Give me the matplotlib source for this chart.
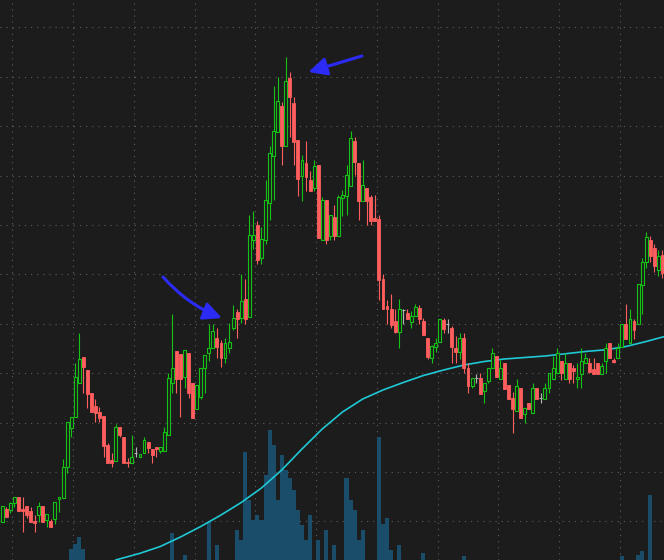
import matplotlib
matplotlib.use("Agg")
import matplotlib.pyplot as plt
from matplotlib.ticker import MultipleLocator
import numpy as np

# ---------------- data ----------------
opens = [3.83, 5.10, 5.00, 5.73, 6.27, 5.10, 5.40, 4.90, 3.90, 4.47,
         5.40, 4.00, 3.90, 4.07, 6.07, 6.17, 9.27, 13.23, 14.27, 17.67,
         20.27, 19.00, 16.67, 15.40, 14.80, 14.40, 11.52, 10.00, 9.93, 13.28,
         12.30, 9.83, 9.73, 10.73, 10.27, 10.73, 11.80, 11.12, 11.30, 10.93,
         10.93, 12.47, 17.67, 20.90, 20.60, 18.27, 20.73, 17.67, 15.13, 16.27,
         19.17, 20.67, 21.17, 22.23, 21.67, 20.23, 21.17, 23.17, 24.77, 24.17,
         26.07, 24.33, 32.00, 33.50, 30.23, 32.00, 35.73, 40.43, 42.83, 45.40,
         41.43, 48.17, 45.67, 42.00, 38.40, 39.67, 38.00, 37.17, 39.50, 32.00,
         36.00, 32.43, 34.33, 32.43, 36.23, 36.43, 37.43, 41.90, 39.70, 35.93,
         37.18, 36.30, 34.23, 34.10, 28.10, 25.40, 25.10, 23.90, 22.77, 25.05,
         24.67, 23.83, 24.40, 25.23, 23.90, 22.22, 20.17, 21.33, 21.83, 24.00,
         23.57, 23.23, 21.23, 20.83, 22.17, 19.23, 17.40, 18.20, 18.23, 16.93,
         17.90, 19.17, 20.40, 18.13, 19.70, 17.50, 16.17, 14.90, 17.23, 14.60,
         15.67, 14.67, 17.17, 16.20, 16.13, 17.17, 18.13, 18.67, 19.90, 18.13,
         19.67, 19.17, 18.15, 18.63, 19.67, 19.67, 19.07, 19.67, 18.63, 19.93,
         21.67, 20.00, 20.17, 21.33, 23.57, 21.67, 23.90, 23.57, 27.50, 29.80,
         32.00, 31.20, 29.00, 30.50]
highs = [5.40, 5.33, 5.77, 6.27, 6.27, 6.27, 5.40, 5.27, 4.50, 5.77,
         5.40, 4.57, 4.10, 5.77, 6.27, 10.07, 13.77, 14.27, 19.67, 22.67,
         20.27, 19.00, 16.67, 16.15, 15.27, 14.40, 11.73, 10.73, 13.65, 13.28,
         12.30, 10.17, 12.50, 11.27, 10.60, 12.27, 11.80, 11.12, 11.30, 11.30,
         13.30, 18.73, 24.57, 20.90, 20.60, 21.00, 20.73, 17.67, 17.50, 19.17,
         20.50, 23.60, 23.65, 23.25, 22.00, 22.17, 23.67, 25.50, 25.07, 28.57,
         28.07, 34.50, 34.93, 33.93, 33.33, 38.00, 41.43, 47.40, 48.33, 45.83,
         50.33, 48.83, 46.33, 42.00, 40.50, 41.90, 38.93, 40.00, 39.50, 36.33,
         36.00, 34.50, 35.50, 36.50, 37.00, 39.50, 42.87, 42.33, 39.70, 40.00,
         37.18, 36.50, 36.50, 34.50, 28.57, 26.00, 26.60, 25.10, 26.07, 25.10,
         25.10, 24.90, 25.60, 25.50, 24.17, 22.22, 21.50, 22.17, 24.07, 24.17,
         24.07, 23.40, 22.40, 22.67, 22.67, 19.67, 18.17, 18.57, 18.67, 17.67,
         19.17, 21.17, 20.40, 20.00, 19.70, 17.50, 16.83, 18.10, 17.23, 15.17,
         15.67, 17.67, 17.17, 16.67, 17.67, 18.67, 20.40, 21.17, 19.90, 20.67,
         19.67, 19.50, 19.67, 21.17, 20.67, 20.17, 20.17, 19.67, 19.67, 21.67,
         21.67, 20.17, 21.67, 23.57, 25.57, 25.07, 24.07, 27.60, 30.20, 32.80,
         32.40, 31.60, 31.00, 31.00]
lows = [3.80, 4.30, 4.73, 5.33, 4.90, 2.83, 4.17, 3.83, 2.83, 3.83,
        3.83, 3.33, 3.33, 3.60, 4.83, 6.17, 8.73, 12.27, 14.27, 17.67,
        16.67, 15.17, 14.77, 13.80, 13.77, 10.33, 9.73, 9.30, 9.93, 12.27,
        9.73, 9.27, 9.73, 10.33, 10.27, 10.73, 10.73, 9.73, 10.27, 10.73,
        10.93, 12.47, 16.67, 16.73, 14.27, 17.17, 16.17, 14.23, 15.13, 16.13,
        16.67, 19.90, 21.17, 20.17, 19.27, 19.67, 20.67, 23.00, 22.17, 23.67,
        23.60, 24.33, 31.10, 29.57, 29.60, 31.60, 34.00, 36.00, 42.83, 39.50,
        41.43, 42.33, 39.50, 36.40, 35.93, 36.93, 36.93, 36.90, 32.23, 32.00,
        31.57, 32.00, 32.00, 32.43, 34.43, 34.50, 37.43, 38.50, 34.00, 35.93,
        33.50, 33.50, 33.93, 26.00, 25.07, 23.60, 23.17, 22.67, 21.17, 23.57,
        24.07, 23.17, 24.40, 23.57, 22.50, 20.10, 19.67, 20.83, 21.83, 22.67,
        22.67, 19.67, 19.67, 20.07, 18.67, 16.67, 17.17, 17.73, 16.60, 15.67,
        17.67, 19.17, 18.33, 18.13, 17.10, 16.13, 12.73, 14.90, 14.23, 13.67,
        15.13, 14.67, 16.13, 15.67, 16.13, 16.67, 18.13, 18.67, 18.00, 18.13,
        17.67, 17.67, 17.17, 17.17, 19.67, 18.67, 18.63, 18.63, 18.63, 18.67,
        20.17, 19.67, 20.17, 21.33, 22.10, 21.67, 22.10, 23.57, 24.57, 29.20,
        29.80, 28.80, 28.40, 28.20]
closes = [5.40, 4.33, 5.67, 6.27, 4.90, 4.90, 4.50, 3.83, 3.67, 5.40,
          3.83, 4.57, 3.33, 5.77, 6.27, 9.27, 13.77, 14.27, 18.33, 20.07,
          19.33, 16.63, 14.77, 14.67, 14.25, 11.43, 9.73, 9.73, 13.28, 12.50,
          9.73, 9.73, 10.27, 10.73, 10.60, 12.00, 11.22, 10.50, 11.13, 11.30,
          12.80, 18.20, 19.17, 18.13, 18.10, 21.00, 16.67, 14.23, 17.50, 19.17,
          20.50, 21.20, 22.85, 21.35, 20.17, 21.73, 21.83, 24.17, 24.07, 25.90,
          24.07, 32.50, 32.47, 30.00, 32.07, 36.00, 40.67, 42.90, 45.90, 41.43,
          47.90, 46.33, 41.83, 38.10, 40.00, 38.33, 36.93, 39.43, 32.23, 36.00,
          32.00, 34.50, 32.43, 36.27, 36.50, 38.50, 42.17, 39.83, 35.93, 37.45,
          35.93, 33.93, 33.93, 28.05, 25.07, 25.10, 23.50, 22.80, 25.08, 25.05,
          24.07, 24.40, 25.33, 24.07, 22.50, 20.33, 21.40, 21.67, 24.07, 23.07,
          23.57, 21.30, 20.80, 22.17, 19.17, 17.40, 18.17, 18.20, 16.60, 17.67,
          19.17, 20.67, 18.33, 19.17, 17.10, 16.13, 15.10, 17.43, 14.23, 15.17,
          15.13, 17.17, 16.13, 16.20, 17.17, 18.67, 19.17, 20.67, 18.67, 19.67,
          18.13, 18.90, 18.30, 19.90, 20.17, 18.83, 18.63, 18.63, 19.37, 21.17,
          20.17, 19.83, 21.17, 23.57, 22.10, 24.07, 23.00, 27.60, 29.80, 32.30,
          30.40, 29.40, 30.40, 28.70]

# visible volume (bars are only drawn where volume is non-zero)
volume_index = [17, 18, 19, 20, 42, 45, 51, 53, 58, 59, 60, 61, 62, 63, 64, 65,
                66, 67, 68, 69, 70, 71, 72, 73, 74, 75, 76, 78, 80, 82, 85, 86,
                87, 88, 89, 93, 94, 95, 96, 98, 104, 114, 153, 157, 158, 160]
volume_value = [1.1, 1.6, 2.3, 1.1, 2.7, 0.5, 3.8, 1.5, 3.0, 2.0, 10.8, 6.0, 4.0, 4.5, 4.0, 8.5,
                13.0, 11.5, 6.0, 10.5, 9.0, 8.2, 7.0, 5.0, 3.5, 2.0, 4.5, 2.0, 3.0, 1.5, 8.2, 6.0,
                5.0, 2.0, 3.0, 12.3, 3.6, 4.2, 1.0, 1.5, 0.7, 0.4, 0.4, 0.5, 0.9, 6.5]

# long moving average
ma_index = [28, 34, 39, 44, 49, 54, 59, 64, 69, 74, 79, 84, 89, 94, 99, 104, 109,
            114, 119, 124, 129, 134, 139, 144, 149, 154, 159, 164]
ma_value = [0.0, 0.67, 1.35, 2.3, 3.35, 4.5, 5.75, 7.2, 9.0, 11.1, 13.1, 14.8, 16.1,
            17.0, 17.75, 18.45, 19.0, 19.5, 19.85, 20.1, 20.25, 20.4, 20.62, 20.85,
            21.02, 21.35, 21.85, 22.4]

# annotation arrows: (tail index, tail price, head index, head price)
arrow_up = (39.7, 28.3, 54.2, 24.2)
arrow_top = (88.8, 50.4, 75.6, 48.8)

# ---------------- style ----------------
BG = "#1c1c1c"
GREEN = "#16c216"
RED = "#ff5e5e"
GRAY = "#b4b4b4"
GRID = "#5e5e5e"
CYAN = "#1fc8d4"
VOL = "#1a4d69"
ARROW = "#2b2bf5"

fig = plt.figure(figsize=(6.64, 5.60), dpi=100, facecolor=BG)
ax_v = fig.add_axes([0, 0, 1, 1], label="volume")
ax_v.set_facecolor(BG)
ax = fig.add_axes([0, 0, 1, 1], label="price")
ax.patch.set_visible(False)

n = len(opens)
idx = np.arange(n)
o = np.array(opens); h = np.array(highs); l = np.array(lows); c = np.array(closes)

xlim = (-0.57, 163.4)
ax.set_xlim(*xlim)
ax_v.set_xlim(*xlim)
ax.set_ylim(0, 56)
ax_v.set_ylim(0, 56)

# grid (dotted) - drawn on the background axes so it sits under everything
ax_v.xaxis.set_major_locator(MultipleLocator(15, offset=2.47))
ax_v.yaxis.set_major_locator(MultipleLocator(4.94, offset=3.87))
ax_v.set_axisbelow(True)
ax_v.grid(True, color=GRID, linestyle=(0, (1, 4.5)), linewidth=0.8)

# volume
ax_v.bar(volume_index, volume_value, width=1.0, color=VOL, linewidth=0, zorder=1)

# MA
ax.plot(ma_index, ma_value, color=CYAN, linewidth=1.2, zorder=2)

# candles
up = c > o
down = c < o
flat = c == o
cols = np.where(up, GREEN, np.where(down, RED, GRAY))
ax.vlines(idx, l, h, colors=cols, linewidth=0.8, zorder=3)
bw = 0.72
ax.bar(idx[up], (c - o)[up], bottom=o[up], width=bw, facecolor=BG,
       edgecolor=GREEN, linewidth=0.8, zorder=4)
ax.bar(idx[down], (o - c)[down], bottom=c[down], width=bw, facecolor=RED,
       edgecolor=RED, linewidth=0.6, zorder=4)
ax.hlines(c[flat], idx[flat] - bw / 2, idx[flat] + bw / 2, colors=GRAY,
          linewidth=0.8, zorder=4)

# arrows
ax.annotate("", xy=(arrow_up[2], arrow_up[3]), xytext=(arrow_up[0], arrow_up[1]),
            arrowprops=dict(arrowstyle="-|>,head_length=0.55,head_width=0.27",
                            mutation_scale=20, color=ARROW, lw=2.2,
                            connectionstyle="arc3,rad=0.12", shrinkA=0, shrinkB=0),
            zorder=6)
ax.annotate("", xy=(arrow_top[2], arrow_top[3]), xytext=(arrow_top[0], arrow_top[1]),
            arrowprops=dict(arrowstyle="-|>,head_length=0.55,head_width=0.27",
                            mutation_scale=20, color=ARROW, lw=2.2,
                            shrinkA=0, shrinkB=0),
            zorder=6)

for a in (ax, ax_v):
    for s in a.spines.values():
        s.set_visible(False)
    a.tick_params(left=False, right=False, bottom=False, top=False,
                  labelleft=False, labelright=False, labelbottom=False)
ax.set_xticks([])
ax.set_yticks([])

fig.savefig("out.png", dpi=100, facecolor=BG)
